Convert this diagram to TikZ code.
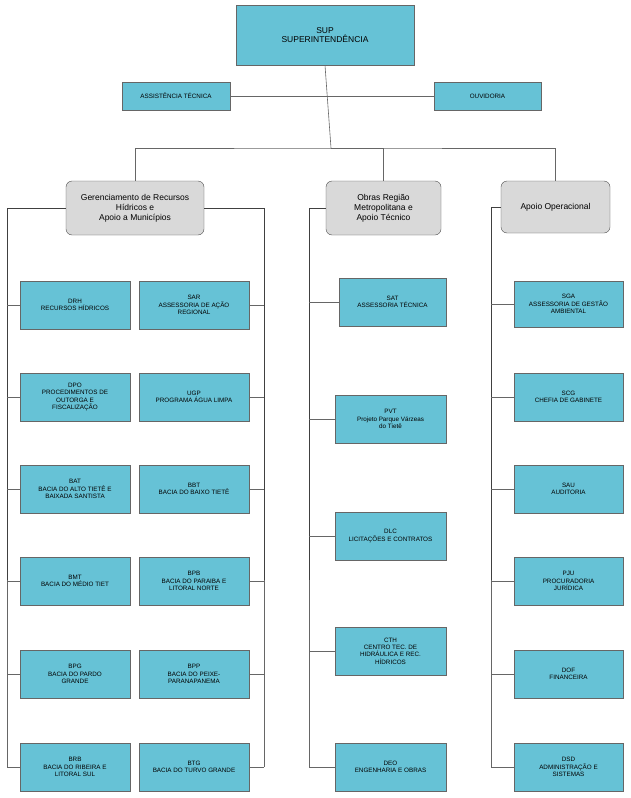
\documentclass[tikz,border=0pt]{standalone}
\usepackage{fontspec}
\setmainfont{Liberation Sans}
\begin{document}
\begin{tikzpicture}[x=1pt,y=-1pt,
 box/.style={draw=black!60,fill=cyan!45!blue!25!white,fill=boxc,line width=0.6pt,align=center,font=\fontsize{6.3}{7.3}\selectfont,inner sep=1pt},
 grp/.style={draw=black!70,fill=black!15,rounded corners=6pt,align=center,font=\fontsize{8.5}{10}\selectfont,inner sep=1pt},
 ln/.style={draw=black!75,line width=0.9pt},
 ln2/.style={draw=black!60,line width=0.6pt}]
\definecolor{boxc}{RGB}{102,194,214}
\useasboundingbox (0,0) rectangle (631,798);
\newcommand\bx[6]{\node[box,minimum width=#3-#2,minimum height=#5-#4] (#1) at ({(#2+#3)/2},{(#4+#5)/2}) {#6};}
\bx{sup}{236}{414}{5}{65}{\fontsize{8.5}{10}\selectfont SUP\\\fontsize{8.5}{10}\selectfont SUPERINTENDÊNCIA}
\bx{ast}{122}{230}{82}{110}{ASSISTÊNCIA TÉCNICA}
\bx{ouv}{434}{541}{82}{110}{OUVIDORIA}
\node[grp,minimum width=138,minimum height=54] (g1) at (135,208) {Gerenciamento de Recursos\\Hídricos e\\Apoio a Municípios};
\node[grp,minimum width=115,minimum height=54] (g2) at (383.5,208) {Obras Região\\Metropolitana e\\Apoio Técnico};
\node[grp,minimum width=109,minimum height=52] (g3) at (555.5,207) {Apoio Operacional};
\coordinate (c1) at (331,96);
\coordinate (c2) at (331,148);
\draw[ln2] (sup.south) -- (c2);
\draw[ln2] (ast.east) -- (ouv.west);
\draw[ln2] (g1.north) |- (c2) -| (g3.north);
\draw[ln2] (c2) -| (g2.north);
% rows
\def\ya{281}\def\yb{329}
\bx{drh}{20}{130}{281}{329}{DRH\\RECURSOS HÍDRICOS}
\bx{dpo}{20}{130}{373}{421}{DPO\\PROCEDIMENTOS DE\\OUTORGA E\\FISCALIZAÇÃO}
\bx{bat}{20}{130}{465}{513}{BAT\\BACIA DO ALTO TIETÊ E\\BAIXADA SANTISTA}
\bx{bmt}{20}{130}{557}{605}{BMT\\BACIA DO MÉDIO TIET}
\bx{bpg}{20}{130}{650}{698}{BPG\\BACIA DO PARDO\\GRANDE}
\bx{brb}{20}{130}{743}{791}{BRB\\BACIA DO RIBEIRA E\\LITORAL SUL}
\bx{sar}{139}{249}{281}{329}{SAR\\ASSESSORIA DE AÇÃO\\REGIONAL}
\bx{ugp}{139}{249}{373}{421}{UGP\\PROGRAMA ÁGUA LIMPA}
\bx{bbt}{139}{249}{465}{513}{BBT\\BACIA DO BAIXO TIETÊ}
\bx{bpb}{139}{249}{557}{605}{BPB\\BACIA DO PARAIBA E\\LITORAL NORTE}
\bx{bpp}{139}{249}{650}{698}{BPP\\BACIA DO PEIXE-\\PARANAPANEMA}
\bx{btg}{139}{249}{743}{791}{BTG\\BACIA DO TURVO GRANDE}
\bx{sat}{339}{446}{278}{326}{SAT\\ASSESSORIA TÉCNICA}
\bx{pvt}{335}{446}{395}{443}{PVT\\Projeto Parque Várzeas\\do Tietê}
\bx{dlc}{335}{446}{512}{560}{DLC\\LICITAÇÕES E CONTRATOS}
\bx{cth}{335}{446}{627}{675}{CTH\\CENTRO TEC. DE\\HIDRÁULICA E REC.\\HÍDRICOS}
\bx{deo}{335}{446}{743}{791}{DEO\\ENGENHARIA E OBRAS}
\bx{sga}{514}{623}{281}{327}{SGA\\ASSESSORIA DE GESTÃO\\AMBIENTAL}
\bx{scg}{514}{623}{373}{421}{SCG\\CHEFIA DE GABINETE}
\bx{sau}{514}{623}{465}{513}{SAU\\AUDITORIA}
\bx{pju}{514}{623}{557}{605}{PJU\\PROCURADORIA\\JURÍDICA}
\bx{dof}{514}{623}{650}{698}{DOF\\FINANCEIRA}
\bx{dsd}{514}{623}{743}{791}{DSD\\ADMINISTRAÇÃO E\\SISTEMAS}
% group 1 trees
\draw[ln] (g1.west) -| (7,580);
\draw[ln2] (7,580) -- (7,767);
\draw[ln] (g1.east) -| (264,580);
\draw[ln2] (264,580) -- (264,767);
\foreach \n in {drh,dpo,bat,bmt,bpg,brb}{\draw[ln2] (\n.west) -- ++(-13,0);}
\foreach \n in {sar,ugp,bbt,bpb,bpp,btg}{\draw[ln2] (\n.east) -- ++(15,0);}
% group 2
\draw[ln] (g2.west) -| (309,580);
\draw[ln2] (309,580) -- (309,767);
\foreach \n in {sat,pvt,dlc,cth,deo}{\draw[ln2] (\n.west) -- (309,0 |- \n.west);}
% group 3
\draw[ln] (g3.west) -| (491,580);
\draw[ln2] (491,580) -- (491,767);
\foreach \n in {sga,scg,sau,pju,dof,dsd}{\draw[ln2] (\n.west) -- (491,0 |- \n.west);}
\end{tikzpicture}
\end{document}
